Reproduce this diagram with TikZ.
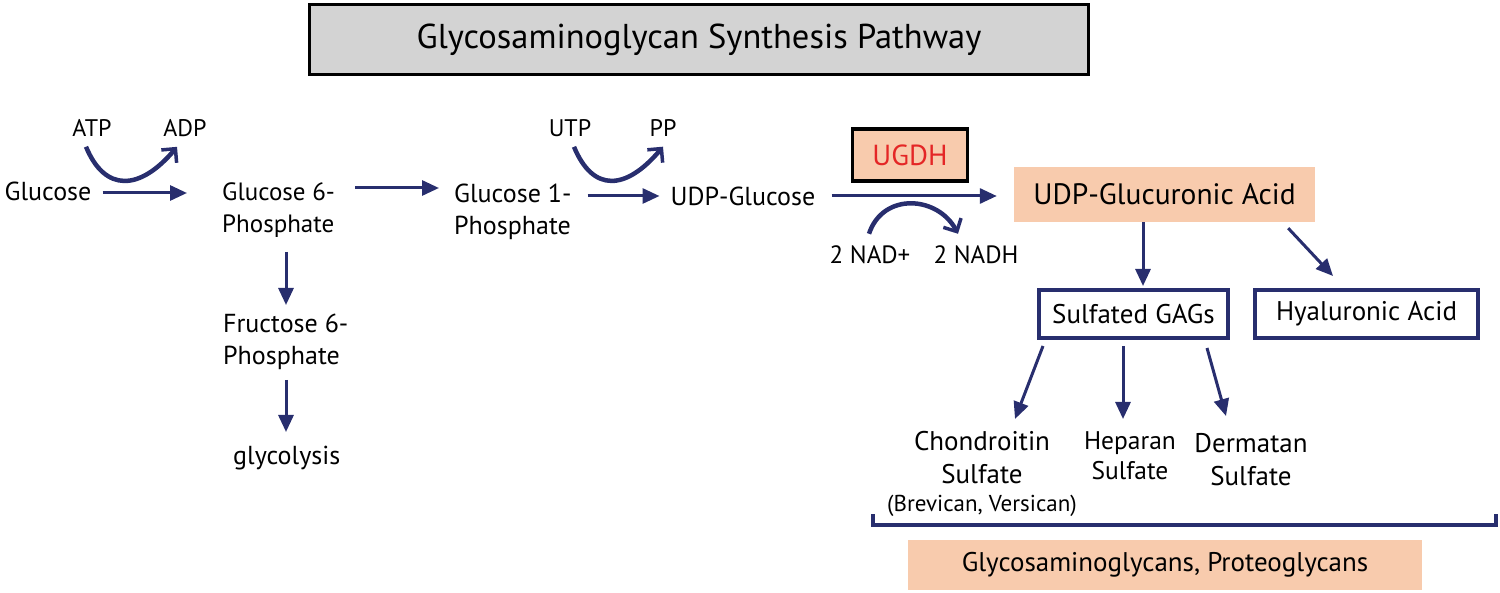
\documentclass[tikz,border=0pt]{standalone}
\usepackage{fontspec}
\setmainfont{PT Sans}
\usetikzlibrary{arrows.meta,calc}
\definecolor{navy}{RGB}{40,46,110}
\definecolor{peach}{RGB}{248,203,173}
\definecolor{titlegray}{RGB}{211,211,211}
\definecolor{ugdhred}{RGB}{228,38,38}
\tikzset{
  lbl/.style={inner sep=0pt, font=\fontsize{26}{32}\selectfont},
  lblL/.style={lbl, align=left},
  lblC/.style={lbl, align=center},
  arr/.style={draw=navy, line width=3pt, -{Triangle[length=17pt,width=15pt]}},
  curv/.style={draw=navy, line width=4.5pt, -{Straight Barb[length=10pt,width=20pt,line width=3.5pt]}},
  navybox/.style={draw=navy, line width=4pt, inner sep=0pt, font=\fontsize{27}{30}\selectfont},
}
\begin{document}
\begin{tikzpicture}[x=1pt,y=-1pt]
\useasboundingbox (0,0) rectangle (1500,593);
% title
\node[draw=black, line width=3pt, fill=titlegray, minimum width=779pt, minimum height=70pt, inner sep=0pt,
  font=\fontsize{34.5}{40}\selectfont] (title) at (699,39.5) {Glycosaminoglycan Synthesis Pathway};
% left chain
\node[lbl] (glc) at (48,191) {Glucose};
\node[lbl, font=\fontsize{24}{30}\selectfont] (atp) at (92,128) {ATP};
\node[lbl, font=\fontsize{24}{30}\selectfont] (adp) at (185,128) {ADP};
\node[lblL, font=\fontsize{25}{32}\selectfont, anchor=west] (g6p) at (222,210) {Glucose 6-\\Phosphate};
\node[lblL, anchor=west] (f6p) at (223,342) {Fructose 6-\\Phosphate};
\node[lbl, anchor=west] (gly) at (233,458) {glycolysis};
\node[lblL, anchor=west] (g1p) at (454,212) {Glucose 1-\\Phosphate};
\node[lbl, font=\fontsize{24}{30}\selectfont] (utp) at (570,128) {UTP};
\node[lbl, font=\fontsize{24}{30}\selectfont] (pp) at (663,128) {PP};
\node[lbl] (udpg) at (743,196) {UDP-Glucose};
% UGDH
\node[draw=black, line width=3.5pt, fill=peach, minimum width=115pt, minimum height=52pt, inner sep=0pt,
  text=ugdhred, font=\fontsize{29}{32}\selectfont] (ugdh) at (910,155) {UGDH};
\node[lbl, font=\fontsize{25}{30}\selectfont] (nad) at (870,255) {2 NAD+};
\node[lbl, font=\fontsize{25}{30}\selectfont] (nadh) at (976,255) {2 NADH};
% UDP-GlcA
\node[fill=peach, minimum width=301pt, minimum height=55pt, inner sep=0pt,
  font=\fontsize{29.5}{32}\selectfont] (udpga) at (1164.5,194.5) {UDP-Glucuronic Acid};
\node[navybox, minimum width=189pt, minimum height=48pt] (sgag) at (1133.5,314) {Sulfated GAGs};
\node[navybox, minimum width=223pt, minimum height=48pt] (ha) at (1366.5,314) {Hyaluronic Acid};
% products
\node[lblC, font=\fontsize{27}{33}\selectfont, anchor=north] (cs) at (982,431)
  {Chondroitin\\Sulfate\\[-5pt]{\fontsize{23}{28}\selectfont (Brevican, Versican)}};
\node[lblC, font=\fontsize{25.5}{30}\selectfont, anchor=north] (hs) at (1130,431) {Heparan\\Sulfate};
\node[lblC, font=\fontsize{27}{33}\selectfont, anchor=north] (ds) at (1251,433) {Dermatan\\Sulfate};
% bracket and final box
\coordinate (brL) at (873,525);
\coordinate (brR) at (1496,525);
\draw[navy, line width=3.5pt] ($(brL)+(0,-11)$) -- (brL) -- (brR) -- ($(brR)+(0,-11)$);
\node[fill=peach, minimum width=514pt, minimum height=50pt, inner sep=0pt,
  font=\fontsize{27}{30}\selectfont] (gag) at (1165,565) {Glycosaminoglycans, Proteoglycans};
% arrows main chain
\draw[arr] ($(glc.east)+(11,2)$) -- ($(g6p.west |- glc.east)+(-35,2)$);
\draw[arr] ($(g6p.west |- glc.east)+(133,-3)$) -- ($(g1p.west |- glc.east)+(-15,-3)$);
\draw[arr] ($(g6p.west)+(64,42)$) -- ($(f6p.west)+(63,-37)$);
\draw[arr] ($(f6p.west)+(63,38)$) -- ($(gly.west)+(53,-26)$);
\draw[arr] ($(udpg.west)+(-83,0)$) -- ($(udpg.west)+(-11,0)$);
\draw[arr] ($(udpg.east)+(16,0)$) -- ($(udpga.west |- udpg.east)+(-17,0)$);
\draw[arr] ($(udpga.south)+(-21.5,0)$) -- ($(sgag.north)+(9.5,-2)$);
\draw[arr] ($(udpga.south east)+(-27,6)$) -- ($(ha.north west)+(80,-12)$);
\draw[arr] ($(sgag.south west)+(6,6)$) -- ($(cs.north)+(33,-12)$);
\draw[arr] ($(sgag.south)+(-10.5,6)$) -- ($(hs.north)+(-7,-12)$);
\draw[arr] ($(sgag.south east)+(-23,8)$) -- ($(ds.north)+(-25,-17)$);
% side curves
\draw[curv] ($(atp.south)+(-6,10)$) .. controls +(19,46) and +(-37,44) .. ($(adp.south)+(-8,10)$);
\draw[curv] ($(utp.south)+(4,10)$) .. controls +(19,46) and +(-37,44) .. ($(pp.south)+(0,10)$);
\draw[curv] ($(nad.north)+(-1,-12)$) .. controls +(14,-42) and +(-20,-38) .. ($(nadh.north)+(-18,-12)$);
\end{tikzpicture}
\end{document}
